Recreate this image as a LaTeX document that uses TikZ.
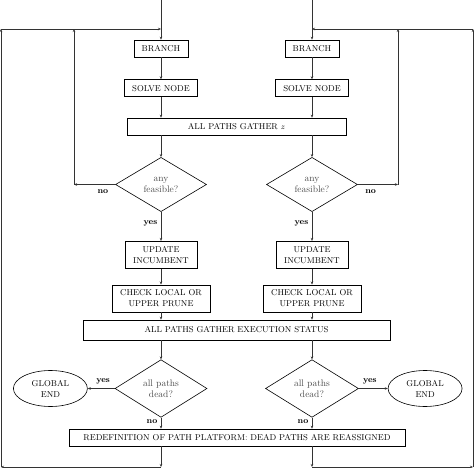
\documentclass[tikz,border=0pt]{standalone}
\usepackage{tikz}
\usetikzlibrary{shapes.geometric, arrows.meta, positioning}

\begin{document}
\begin{tikzpicture}[
    x=1pt, y=-1pt,
    box/.style={rectangle, draw, semithick, minimum height=17pt, inner sep=2pt, text centered, align=center, font=\fontsize{8.5}{11}\selectfont},
    decision/.style={diamond, draw, semithick, minimum width=91pt, minimum height=51pt, inner sep=1pt, align=center, text=black!70, font=\fontsize{9.5}{11}\selectfont},
    term/.style={ellipse, draw, semithick, minimum width=74pt, minimum height=36pt, inner sep=1pt, align=center, font=\fontsize{8.5}{11}\selectfont},
    arr/.style={-{Stealth[length=3pt, width=2.5pt]}, line width=0.7pt, black!80},
    lbl/.style={font=\fontsize{8.5}{10}\selectfont\bfseries, text=black}
]
\useasboundingbox (0,0) rectangle (474,468);

% left path
\coordinate (topL) at (161,0);
\node[box, minimum width=54pt] (branchL) at (161,48.5) {BRANCH};
\node[box, minimum width=73pt, below=22pt of branchL] (solveL) {SOLVE NODE};
\node[decision] (feasL) at (161,184.5) {any\\feasible?};
\node[box, minimum width=72pt, minimum height=27pt, below=29pt of feasL] (updL) {UPDATE\\INCUMBENT};
\node[box, minimum width=98pt, minimum height=27pt, below=16pt of updL] (checkL) {CHECK LOCAL OR\\UPPER PRUNE};
\node[decision, minimum width=92pt] (deadL) at (161,388.5) {all paths\\dead?};
\node[term, left=27pt of deadL] (endL) {GLOBAL\\END};

% right path
\coordinate (topR) at (312,0);
\node[box, minimum width=54pt] (branchR) at (312,48.5) {BRANCH};
\node[box, minimum width=73pt, below=22pt of branchR] (solveR) {SOLVE NODE};
\node[decision] (feasR) at (312,184.5) {any\\feasible?};
\node[box, minimum width=72pt, minimum height=27pt, below=29pt of feasR] (updR) {UPDATE\\INCUMBENT};
\node[box, minimum width=98pt, minimum height=27pt, below=16pt of updR] (checkR) {CHECK LOCAL OR\\UPPER PRUNE};
\node[decision, minimum width=93pt] (deadR) at (312,388.5) {all paths\\dead?};
\node[term, right=29pt of deadR] (endR) {GLOBAL\\END};

% shared boxes
\node[box, minimum width=219pt] (gather) at (236.5,126.5) {ALL PATHS GATHER $z$};
\node[box, minimum width=307pt, minimum height=20pt] (status) at (236.5,330) {ALL PATHS GATHER EXECUTION STATUS};
\node[box, minimum width=336pt] (redef) at (237,437.5) {REDEFINITION OF PATH PLATFORM: DEAD PATHS ARE REASSIGNED};

% loop corners
\coordinate (noL) at (74,184.5);
\coordinate (upL) at (74,29);
\coordinate (joinL) at (161,29);
\coordinate (cornerL) at (1,29);
\coordinate (baseL) at (1,467);
\coordinate (downL) at (161,467);
\coordinate (noR) at (398,184.5);
\coordinate (upR) at (398,29);
\coordinate (joinR) at (312,29);
\coordinate (cornerR) at (473,29);
\coordinate (baseR) at (473,467);
\coordinate (downR) at (312,467);

% left connectors
\draw[arr] (topL) -- (branchL);
\draw[arr] (branchL) -- (solveL);
\draw[arr] (solveL) -- (solveL |- gather.north);
\draw[arr] (feasL |- gather.south) -- (feasL);
\draw[arr] (feasL) -- node[lbl, below=1pt, pos=0.3] {no} (noL);
\draw[arr] (noL) -- (upL);
\draw[arr] (cornerL) -- (joinL);
\draw[arr] (feasL) -- node[lbl, left, pos=0.4] {yes} (updL);
\draw[arr] (updL) -- (checkL);
\draw[arr] (checkL) -- (checkL |- status.north);
\draw[arr] (deadL |- status.south) -- (deadL);
\draw[arr] (deadL) -- node[lbl, above=1pt, pos=0.43] {yes} (endL);
\draw[arr] (deadL) -- node[lbl, left, pos=0.4] {no} (deadL |- redef.north);
\draw[arr] (deadL |- redef.south) -- (downL);
\draw[arr] (downL) -- (baseL);
\draw[arr] (baseL) -- (cornerL);

% right connectors
\draw[arr] (topR) -- (branchR);
\draw[arr] (branchR) -- (solveR);
\draw[arr] (solveR) -- (solveR |- gather.north);
\draw[arr] (feasR |- gather.south) -- (feasR);
\draw[arr] (feasR) -- node[lbl, below=1pt, pos=0.32] {no} (noR);
\draw[arr] (noR) -- (upR);
\draw[arr] (cornerR) -- (joinR);
\draw[arr] (feasR) -- node[lbl, left, pos=0.4] {yes} (updR);
\draw[arr] (updR) -- (checkR);
\draw[arr] (checkR) -- (checkR |- status.north);
\draw[arr] (deadR |- status.south) -- (deadR);
\draw[arr] (deadR) -- node[lbl, above=1pt, pos=0.38] {yes} (endR);
\draw[arr] (deadR) -- node[lbl, left, pos=0.4] {no} (deadR |- redef.north);
\draw[arr] (deadR |- redef.south) -- (downR);
\draw[arr] (downR) -- (baseR);
\draw[arr] (baseR) -- (cornerR);
\end{tikzpicture}
\end{document}
